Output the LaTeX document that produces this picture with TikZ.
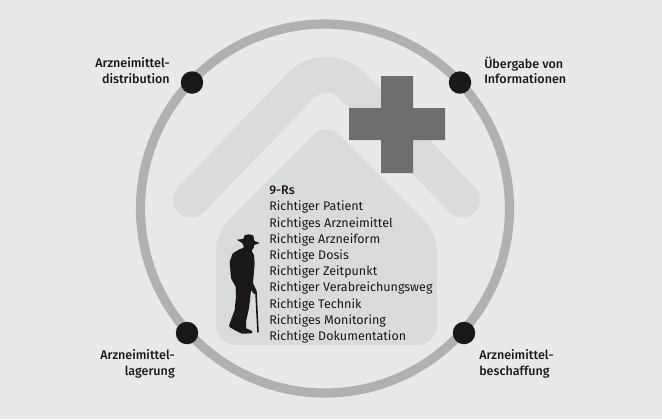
\documentclass[tikz,border=0pt]{standalone}
\usepackage{fontspec}
\setmainfont[BoldFont={Fira Sans Medium}]{Fira Sans}
\definecolor{bgfill}{HTML}{E9E9E9}
\definecolor{ringgray}{HTML}{B0B1B3}
\definecolor{housegray}{HTML}{DADBDD}
\definecolor{crossgray}{HTML}{6D6E70}
\definecolor{inkblack}{HTML}{1A171B}
\tikzset{
    dotnode/.style={circle,fill=inkblack,minimum size=22.5*0.75pt,inner sep=0pt},
    stationleft/.style={align=right,anchor=east,inner sep=0pt,text=inkblack,font=\fontsize{9.4}{11.8}\selectfont\bfseries},
    stationright/.style={align=left,anchor=west,inner sep=0pt,text=inkblack,font=\fontsize{9.4}{11.8}\selectfont\bfseries},
}
\begin{document}
\begin{tikzpicture}[x=0.75pt,y=-0.75pt]
    \useasboundingbox (0,0) rectangle (662,419);
    \fill[bgfill] (0,0) rectangle (662,419);
    % ring
    \draw[ringgray,line width=6.9pt] (325,208.5) circle [radius=184.5*0.75pt];
    % roof
    \draw[housegray,line width=27pt,line cap=round,rounded corners=28pt] (191,199.5) -- (326.5,59) -- (462,199.5);
    % house
    \fill[housegray,rounded corners=13pt] (326.5,122) -- (437,233) [rounded corners=15pt] -- (437,345) -- (216,345) [rounded corners=13pt] -- (216,233) -- cycle;
    % cross
    \fill[crossgray] (381,76) -- (413,76) -- (413,108) -- (445,108) -- (445,140) -- (413,140)
        -- (413,173) -- (381,173) -- (381,140) -- (349,140) -- (349,108) -- (381,108) -- cycle;
    % man with stick
    \begin{scope}[shift={(220,225)},scale=1/3]
        \fill[inkblack,rounded corners=0.6pt] (50,44) -- (70,42) -- (74,30) -- (88,28) -- (100,31) -- (103,48) -- (120,54)
            -- (102,60) -- (101,70) -- (94,76) -- (102,90) -- (104,115) -- (101,150) -- (99,175) -- (109,195) -- (111,205)
            -- (103,208) -- (93,195) -- (90,225) -- (87,250) -- (78,290) -- (78,310) -- (97,318) -- (97,325) -- (65,326)
            -- (45,316) -- (27,305) -- (30,293) -- (44,255) -- (48,215) -- (47,185) -- (33,160) -- (29,110) -- (38,85)
            -- (60,72) -- (72,68) -- (68,55) -- cycle;
        \draw[inkblack,line width=1.2pt] (108,200) -- (114,322);
    \end{scope}
    % stations
    \node[dotnode] (distribution) at (192,82.5) {};
    \node[dotnode] (uebergabe) at (460,82.5) {};
    \node[dotnode] (lagerung) at (187,333) {};
    \node[dotnode] (beschaffung) at (464,333) {};
    \node[stationleft] (distlabel) at (170,70.5) {Arzneimittel-\\distribution};
    \node[stationright] (ueberlabel) at (484,70.5) {Übergabe von\\Informationen};
    \node[stationleft] (lagerlabel) at (175,363.5) {Arzneimittel-\\lagerung};
    \node[stationright] (beschlabel) at (479,363.5) {Arzneimittel-\\beschaffung};
    % list
    \node[anchor=west,align=left,inner sep=0pt,text=inkblack,font=\fontsize{9.4}{12.15}\selectfont] (rlist) at (269,264.5)
        {\textbf{9-Rs}\\Richtiger Patient\\Richtiges Arzneimittel\\Richtige Arzneiform\\Richtige Dosis\\Richtiger Zeitpunkt\\Richtiger Verabreichungsweg\\Richtige Technik\\Richtiges Monitoring\\Richtige Dokumentation};
\end{tikzpicture}
\end{document}
